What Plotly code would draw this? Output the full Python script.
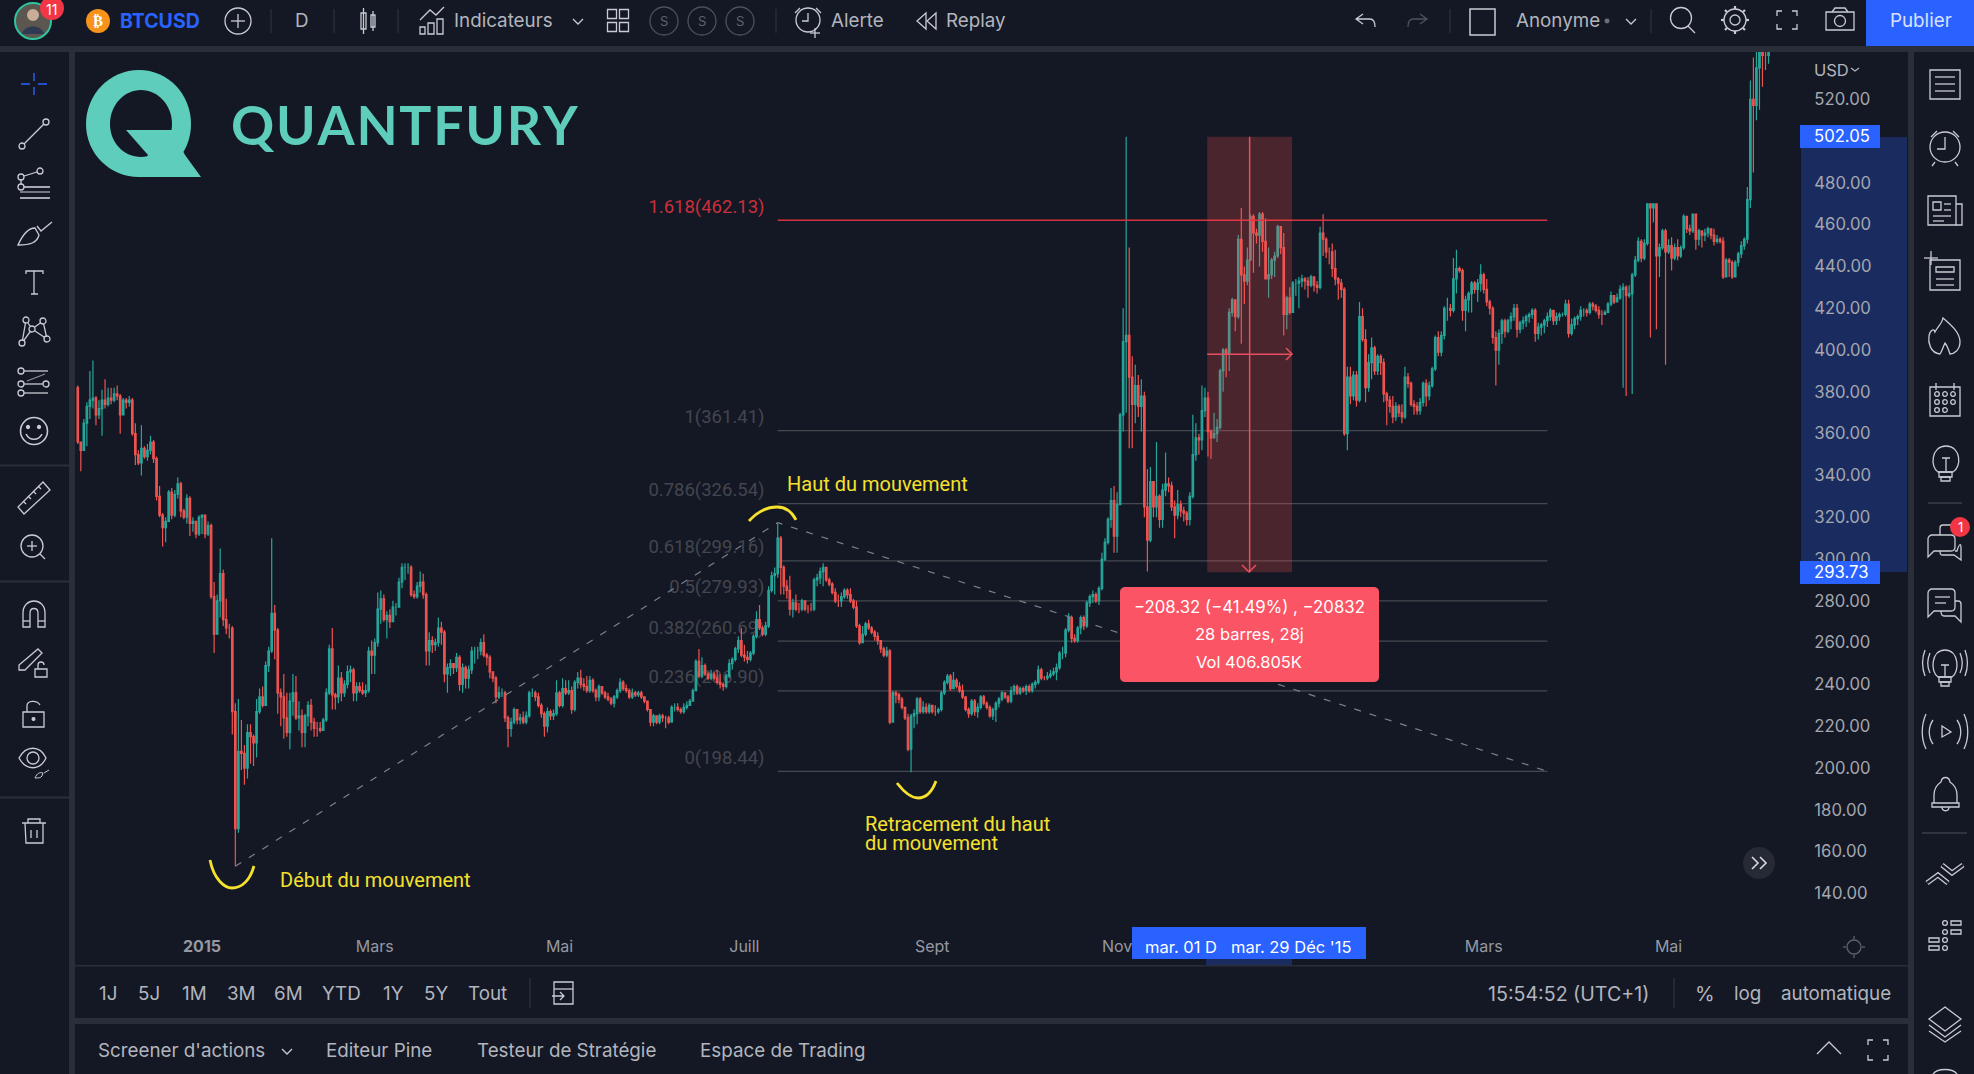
import pandas as pd
import plotly.graph_objects as go

W, H = 1974, 1074

# daily BTCUSD, 2014-11-23 onwards
first_open = 382
closes = [
    356,352,365,373,376,377,369,372,376,374,377,376,379,378,369,376,375,376,360,350,346,353,349,352,356,348,330,321,315,318,332,321,331,336,323,320,329,317,318,312,
    320,321,312,316,282,264,280,293,271,267,267,227,171,208,207,200,217,215,212,227,234,230,249,256,274,266,236,234,224,217,232,236,224,225,217,225,230,222,219,219,218,223,236,257,235,234,243,236,240,246,247,236,239,237,236,237,256,254,260,276,281,271,273,270,277,277,289,296,296,296,283,282,287,289,283,256,261,259,260,267,265,245,248,250,248,253,240,248,243,247,256,256,256,260,254,253,246,243,234,236,236,224,219,222,228,223,224,222,225,236,236,234,230,226,220,227,225,226,236,230,238,236,237,
    228,241,243,240,239,237,242,237,234,239,236,234,233,231,234,237,241,238,237,234,236,235,236,234,232,228,222,225,222,225,224,224,222,229,229,228,227,229,230,232,237,251,244,249,245,243,245,243,241,240,239,244,250,252,257,261,254,253,252,255,263,271,267,264,268,285,292,293,310,296,287,285,276,279,276,276,280,276,276,276,290,291,294,296,290,288,284,280,280,282,285,283,280,277,268,260,264,269,267,265,263,261,257,254,256,222,236,235,233,229,224,209,225,226,233,227,229,227,230,227,227,228,236,241,244,238,242,239,237,234,228,226,232,227,229,234,231,229,225,228,231,233,236,234,232,237,239,236,238,237,239,237,240,241,247,243,243,244,245,246,248,255,255,266,272,262,261,267,272,268,279,282,283,280,286,
    300,308,319,328,311,326,369,404,407,387,374,383,373,378,325,309,337,325,330,319,333,336,335,325,321,326,323,322,319,330,350,358,357,371,377,361,358,360,363,390,400,398,418,424,416,453,436,433,443,464,456,455,465,452,434,436,443,445,459,449,417,425,418,432,432,433,434,433,431,435,431,430,456,453,447,447,439,434,432,429,360,387,378,388,376,416,405,382,394,401,390,397,394,379,376,373,368,373,370,368,387,384,374,373,371,375,384,378,383,391,406,399,407,420,420,419,434,439,438,419,424,427,432,429,432,436,429,423,420,406,400,408,414,409,414,416,420,410,413,414,416,417,419,408,411,412,414,416,419,414,416,417,417,422,408,412,415,416,419,419,418,422,421,419,417,
    417,418,422,426,423,425,429,430,426,427,436,443,452,444,451,470,468,470,445,449,457,447,450,444,449,445,449,464,458,457,465,453,457,455,456,458,455,452,453,452,435,443,442,435,442,446,450,453,472,520,517,535,548,541,541,543,
]
highs = [
    383,356,367,375,390,395,378,376,381,386,382,382,382,383,379,377,377,378,377,365,352,364,354,355,359,357,349,335,322,320,333,334,333,339,337,324,331,330,320,318,
    321,321,321,318,317,289,283,305,295,281,269,268,231,233,223,211,221,221,216,233,238,239,251,258,310,278,267,238,245,236,236,245,244,232,228,226,232,233,224,222,222,224,238,259,267,236,249,246,242,249,249,248,241,241,241,240,258,261,262,284,285,283,275,276,280,279,291,298,298,298,297,285,289,294,293,284,265,263,262,272,270,266,250,252,250,255,254,250,249,249,258,258,258,262,264,255,254,246,244,239,238,237,225,224,229,228,226,227,227,237,238,237,236,231,227,229,228,228,242,237,243,242,242,
    239,242,246,247,243,244,244,243,238,240,239,237,236,234,235,238,243,242,240,238,238,237,237,237,234,232,228,226,225,226,226,225,225,230,231,231,229,231,232,233,238,252,257,253,250,246,247,246,247,245,241,245,252,253,258,263,267,259,256,256,264,275,278,268,270,287,294,296,317,311,297,290,292,281,283,279,281,280,278,279,291,293,296,298,296,291,289,286,283,284,286,286,286,281,280,269,268,270,271,268,266,265,261,258,258,257,237,237,236,234,229,226,226,228,234,234,232,231,231,230,230,229,237,242,245,245,246,243,241,240,234,229,233,233,231,235,235,232,230,229,232,234,237,236,235,239,240,240,239,239,240,240,241,242,249,248,244,246,247,248,250,256,258,267,274,273,264,268,273,273,280,283,285,284,287,
    303,310,320,334,335,332,370,420,502,449,397,393,388,386,380,343,344,337,356,331,336,351,339,337,328,333,328,325,323,332,369,365,360,383,382,380,362,370,367,391,401,401,420,425,424,455,468,440,449,465,465,458,466,466,463,449,444,447,460,458,456,426,430,433,434,435,436,435,435,436,435,433,459,465,454,449,451,448,435,434,430,392,392,390,390,423,420,410,398,406,402,398,398,396,380,378,378,375,374,374,392,389,385,376,375,377,385,386,385,392,407,409,409,421,425,422,444,448,440,439,426,428,433,433,434,441,437,434,424,421,409,410,415,415,415,418,422,422,414,416,417,418,420,420,413,413,415,418,420,419,418,418,418,424,424,415,416,417,421,420,420,423,423,422,421,
    419,419,423,428,426,427,431,432,431,431,437,445,454,453,453,470,470,470,469,451,458,458,453,454,451,453,450,465,462,460,465,463,458,456,458,459,458,458,455,454,454,444,444,443,443,447,452,454,478,529,540,548,560,552,550,552,
]
lows = [
    355,342,352,354,367,372,364,367,359,372,373,374,375,376,360,369,372,373,359,345,345,340,348,347,350,346,328,320,306,308,318,319,320,329,320,319,317,311,313,310,
    311,312,310,311,281,255,264,272,268,264,262,216,153,169,199,192,195,202,201,205,226,229,241,246,255,252,226,220,214,215,209,225,223,218,210,210,220,218,215,215,217,218,222,235,228,228,231,232,234,238,241,232,232,236,235,234,236,245,245,258,269,270,262,267,270,273,277,286,290,293,282,281,281,284,281,249,249,255,256,258,259,241,236,244,245,246,237,236,238,238,245,250,252,254,253,249,243,241,231,233,234,222,210,215,221,221,221,221,221,224,234,232,229,224,215,217,223,223,225,229,229,235,235,
    226,227,238,238,237,236,236,236,232,232,235,233,232,230,229,233,236,237,236,233,233,234,234,233,231,227,220,220,221,221,222,219,221,222,227,227,226,226,228,230,232,237,243,243,244,242,242,242,240,238,237,238,243,247,251,255,253,251,250,251,254,262,266,263,263,267,284,283,291,283,283,281,273,272,275,274,275,275,274,275,275,287,288,287,289,287,283,279,277,277,281,281,279,276,267,259,260,263,266,264,261,259,255,253,253,221,222,231,231,228,223,208,198,219,221,226,226,226,226,226,225,226,227,235,240,237,238,238,236,233,227,224,225,225,224,228,230,228,224,223,222,229,232,233,231,231,235,235,235,236,235,236,236,238,240,242,242,242,243,244,242,247,252,253,265,260,260,260,264,266,267,277,279,279,278,
    285,299,307,315,303,303,326,361,370,353,353,365,368,361,320,294,308,320,320,315,315,330,332,323,310,319,320,318,316,316,329,347,350,352,368,349,348,358,356,362,380,387,390,416,409,415,403,422,431,443,437,451,440,447,434,425,434,435,444,446,407,410,417,419,426,420,430,429,425,430,428,427,429,445,444,441,435,431,424,425,359,352,374,376,373,375,404,375,380,386,388,388,388,375,364,370,365,366,368,365,367,382,373,369,369,369,373,373,376,382,390,397,397,405,414,416,418,427,437,414,409,418,418,427,423,428,427,421,417,403,383,393,403,406,408,410,414,406,408,410,411,413,415,404,405,407,408,411,414,412,412,414,416,416,406,407,410,412,414,416,416,417,419,418,415,
    412,417,418,421,422,423,424,382,378,425,379,435,442,442,443,450,406,461,410,435,448,393,446,438,443,443,444,448,456,455,456,448,450,449,452,454,453,450,451,451,434,435,435,434,436,440,444,448,451,468,485,510,515,526,534,537,
]
dates = pd.date_range("2014-11-23", periods=len(closes), freq="D")
opens = [first_open] + closes[:-1]
assert len(closes) == len(highs) == len(lows), (len(closes), len(highs), len(lows))

price_ticks = [520, 480, 460, 440, 420, 400, 380, 360, 340, 320, 300, 280, 260, 240, 220, 200, 180, 160, 140]
month_ticks = ["2015-01-03", "2015-03-01", "2015-05-01", "2015-07-01", "2015-09-01", "2015-11-01", "2016-03-01", "2016-05-01"]
month_labels = ["<b>2015</b>", "Mars", "Mai", "Juill", "Sept", "Nov", "Mars", "Mai"]

fib_levels = [198.44, 236.90, 260.69, 279.93, 299.16, 326.54, 361.41]
fib_labels = ["0(198.44)", "0.236(236.90)", "0.382(260.69)", "0.5(279.93)", "0.618(299.16)", "0.786(326.54)", "1(361.41)"]
fib_start, fib_end = "2015-07-12", "2016-03-22"
fib_top = 462.13

trend_dates = ["2015-01-14", "2015-07-12", "2016-03-22"]
trend_prices = [153, 317.4, 198.44]

measure_start, measure_mid, measure_end = "2015-11-30 18:00", "2015-12-14 18:00", "2015-12-28 18:00"
measure_high, measure_low = 502.05, 293.73

BG = "#141824"
GAP = "#2a2e39"
ICON = "#c8cbd3"
TEXT = "#b2b5be"
BLUE = "#2962ff"
BAND = "#1a2c5f"
YELLOW = "#f5e12e"
TEAL = "#5fcdbb"
RED = "#f0414f"
UI = 18.8

shapes = []
notes = []


def fx(x):
    return round(x / W, 5)


def fy(y):
    return round(1 - y / H, 5)


def rect(x0, y0, x1, y1, fill=None, color=None, w=1.3, layer="below"):
    shapes.append(dict(type="rect", xref="paper", yref="paper", x0=fx(x0), x1=fx(x1), y0=fy(y0), y1=fy(y1),
                       fillcolor=fill or "rgba(0,0,0,0)", line=dict(color=color or "rgba(0,0,0,0)", width=w if color else 0), layer=layer))


def box(x0, y0, x1, y1, w=1.3):
    rect(x0, y0, x1, y1, None, ICON, w, "above")


def seg(x0, y0, x1, y1, color=ICON, w=1.3, layer="above"):
    shapes.append(dict(type="line", xref="paper", yref="paper", x0=fx(x0), x1=fx(x1), y0=fy(y0), y1=fy(y1),
                       line=dict(color=color, width=w), layer=layer))


def circ(cx, cy, r, fill=None, color=ICON, w=1.3, layer="above"):
    shapes.append(dict(type="circle", xref="paper", yref="paper", x0=fx(cx - r), x1=fx(cx + r), y0=fy(cy - r), y1=fy(cy + r),
                       fillcolor=fill or "rgba(0,0,0,0)", line=dict(color=color or "rgba(0,0,0,0)", width=w if color else 0), layer=layer))


def poly(d, color=ICON, w=1.3, fill=None, layer="above"):
    # d is an svg style path in pixels, pairs get turned into paper coords
    out, is_x = [], True
    for tok in d.split():
        if tok.isalpha():
            out.append(tok)
        else:
            out.append(str(fx(float(tok)) if is_x else fy(float(tok))))
            is_x = not is_x
    shapes.append(dict(type="path", xref="paper", yref="paper", path=" ".join(out),
                       fillcolor=fill or "rgba(0,0,0,0)", line=dict(color=color or "rgba(0,0,0,0)", width=w if color else 0), layer=layer))


def txt(x, y, s, size=UI, color=TEXT, anchor="left", family="Inter", weight=None):
    notes.append(dict(xref="paper", yref="paper", x=fx(x), y=fy(y), text=s, showarrow=False, xanchor=anchor, yanchor="middle",
                      font=dict(size=size, color=color, family=family, weight=weight), borderpad=0))


# panels
rect(0, 0, W, 46, BG)
rect(0, 52, 69, H, BG)
rect(75, 52, 1908, 1018, BG)
rect(75, 1024, 1908, H, BG)
rect(1914, 52, W, H, BG)
rect(75, 965, 1908, 966.5, GAP)
shapes.append(dict(type="rect", xref="paper", yref="paper", x0=fx(1801), x1=fx(1907), y0=fy(572), y1=fy(137),
                   fillcolor=BAND, line=dict(width=0), layer="below"))

# logo
poly("M 139 70 C 168 70 191 94 191 124 C 191 154 168 177 139 177 C 110 177 86 154 86 124 C 86 94 110 70 139 70 Z", color=None, fill=TEAL, layer="below")
poly("M 141 90 C 158 90 172 105 172 124 C 172 143 158 157 141 157 C 124 157 110 143 110 124 C 110 105 124 90 141 90 Z", color=None, fill=BG, layer="below")
poly("M 126 130 L 172 130 L 185 155 L 201 177 L 137 177 L 148 155 Z", color=None, fill=TEAL, layer="below")
txt(230, 124, "<span style='font-size:28px'>\u200a</span>".join("QUANTFURY"), 53.5, TEAL, family="Lato", weight=700)

# top bar
circ(33, 21, 18, "#5b5750", "#2ec4a0", 2)
circ(33, 15, 6, "#c9ad97", None)
poly("M 22 34 C 24 24 42 24 44 34 Z", color=None, fill="#2f3a52")
circ(52, 8, 12, "#f23645", None)
txt(52, 9, "11", 14, "#ffffff", "center")
circ(98, 21, 12, "#f7931a", None)
txt(98, 21, "₿", 15, "#ffffff", "center", "DejaVu Sans", 700)
txt(119, 21, "BTCUSD", 19.5, BLUE, weight=700)
circ(238, 21, 13)
seg(238, 14, 238, 28)
seg(231, 21, 245, 21)
for sx in [271, 334, 398, 776, 1450, 1651]:
    seg(sx, 9, sx, 33, "#2e323d", 1.2)
txt(302, 21, "D", UI, TEXT, "center")
box(361, 13, 366, 29)
box(371, 15, 375, 27)
seg(363.5, 8, 363.5, 34)
seg(373, 11, 373, 31)
poly("M 420 20 L 430 10 L 436 15 L 444 7")
box(420, 27, 425, 34)
box(428, 23, 434, 34)
box(437, 19, 443, 34)
txt(453, 21, "Indicateurs", UI)
poly("M 573 19 L 578 24 L 583 19")
for gx, gy in [(612, 14), (624, 14), (612, 27), (624, 27)]:
    box(gx - 4.5, gy - 4.5, gx + 4.5, gy + 4.5)
for sx in [664, 702, 740]:
    circ(sx, 21, 14, None, "#4c515e")
    txt(sx, 21, "S", 13, "#5d6270", "center")
circ(808, 20, 12)
poly("M 808 13 L 808 21 L 802 21")
seg(815, 28, 815, 38)
seg(810, 33, 820, 33)
poly("M 800 8 L 795 13")
poly("M 816 8 L 821 13")
txt(830, 21, "Alerte", UI)
poly("M 926 13 L 917 21 L 926 29 Z")
poly("M 936 13 L 927 21 L 936 29 Z")
txt(945, 21, "Replay", UI)
poly("M 1363 14 L 1356 19 L 1363 24 M 1356 19 L 1370 19 C 1374 19 1375 22 1375 27")
poly("M 1420 14 L 1427 19 L 1420 24 M 1427 19 L 1413 19 C 1409 19 1408 22 1408 27", color="#4c515e")
box(1470, 9, 1495, 35, 1.5)
txt(1515, 21, "Anonyme", UI)
circ(1607, 21, 2.5, "#6a6e7a", None)
poly("M 1626 19 L 1631 24 L 1636 19")
circ(1681, 18, 10.5)
seg(1688, 26, 1695, 33)
circ(1735, 20, 5)
circ(1735, 20, 11, None, ICON, 1.3)
for ax, ay, bx, by in [(1735, 9, 1735, 6), (1735, 31, 1735, 34), (1724, 20, 1721, 20), (1746, 20, 1749, 20),
                       (1727, 12, 1725, 10), (1743, 12, 1745, 10), (1727, 28, 1725, 30), (1743, 28, 1745, 30)]:
    seg(ax, ay, bx, by, ICON, 2.2)
for fsx, fsy, dx, dy in [(1777, 11, 1, 1), (1797, 11, -1, 1), (1777, 29, 1, -1), (1797, 29, -1, -1)]:
    poly(f"M {fsx} {fsy + 5 * dy} L {fsx} {fsy} L {fsx + 5 * dx} {fsy}")
box(1826, 12, 1854, 30)
circ(1840, 21, 5.5)
poly("M 1832 12 L 1835 8 L 1845 8 L 1848 12")
rect(1866, 0, W, 46, BLUE)
txt(1921, 21, "Publier", UI, "#d8e2ff", "center")

# left toolbar
poly("M 34 73 L 34 81 M 34 87 L 34 95 M 21 84 L 30 84 M 38 84 L 47 84", color=BLUE, w=1.4)
poly("M 22 146 L 46 122")
circ(22, 146, 3, BG)
circ(46, 122, 3, BG)
poly("M 21 177 L 40 171 M 21 177 L 21 187")
circ(21, 177, 3, BG)
circ(40, 171, 3, BG)
for ly, lw in [(187, 2), (192, 1.3), (198, 2)]:
    seg(20, ly, 50, ly, "#a6a9b2", lw)
circ(21, 187, 3, BG)
poly("M 18 245 C 23 234 28 228 35 228 L 39 235 C 37 243 30 245 18 245 Z")
poly("M 37 226 L 41 231 L 52 222")
poly("M 26 274 L 26 271 L 43 271 L 43 274 M 34 271 L 34 294 M 31 294 L 38 294")
poly("M 26 320 L 22 343 M 26 320 L 32 329 L 43 321 L 47 339 M 32 329 L 47 339 M 32 329 L 22 343")
for nx, ny in [(26, 320), (43, 321), (32, 329), (22, 343), (47, 339)]:
    circ(nx, ny, 3, BG)
for ly, lx in [(371, 48), (384, 46), (393, 48)]:
    seg(21, ly, lx, ly)
    circ(21, ly, 3, BG)
circ(46, 384, 3, BG)
poly("M 27 381 L 45 374", "#8c8f98", 1.2)
circ(34, 431, 13.5, None, ICON, 1.6)
circ(28, 427, 1.5, ICON)
circ(39, 427, 1.5, ICON)
poly("M 26 434 C 30 441 38 441 42 434", w=1.5)
rect(0, 464.5, 69, 466.5, GAP, layer="above")
poly("M 43 482 L 50 490 L 24 514 L 18 507 Z")
for tx, ty in [(38, 486), (33, 491), (28, 496), (23, 501)]:
    seg(tx, ty, tx + 3, ty + 3)
circ(32, 546, 11)
seg(40, 554, 45, 559)
seg(27, 546, 37, 546)
seg(32, 541, 32, 551)
rect(0, 580.5, 69, 582.5, GAP, layer="above")
poly("M 23 627 L 23 613 C 23 597 45 597 45 613 L 45 627 L 38 627 L 38 613 C 38 607 30 607 30 613 L 30 627 Z")
seg(23, 621, 30, 621)
seg(38, 621, 45, 621)
poly("M 38 649 L 42 653 L 25 670 L 19 670 L 19 665 Z")
box(35, 669, 47, 677)
poly("M 38 669 L 38 665 C 38 661 44 661 44 665")
box(23, 712, 44, 727)
poly("M 27 712 L 27 706 C 27 700 37 700 40 705")
circ(33.5, 719, 1.4, ICON)
poly("M 19 758 C 26 745 40 745 46 758 C 40 771 26 771 19 758 Z")
circ(33, 758, 6)
poly("M 35 778 C 37 773 40 772 43 773 L 42 776 C 41 778 38 778 35 778 Z M 44 773 L 49 770", w=1)
rect(0, 796.5, 69, 798.5, GAP, layer="above")
poly("M 22 823 L 46 823 M 28 823 L 28 819 L 40 819 L 40 823 M 25 823 L 26 843 L 43 843 L 43 823")
seg(31, 830, 31, 838)
seg(37, 830, 37, 838)

# right toolbar
box(1930, 70, 1960, 99)
for ly in [77, 84, 91]:
    seg(1935, ly, 1955, ly)
circ(1945, 147, 15)
poly("M 1945 137 L 1945 149 L 1937 149")
poly("M 1931 137 L 1937 131 M 1959 137 L 1953 131 M 1935 162 L 1932 166 M 1955 162 L 1958 166")
poly("M 1928 196 L 1956 196 L 1956 225 L 1928 225 Z")
poly("M 1956 204 L 1962 204 L 1962 225 L 1956 225")
box(1933, 202, 1941, 210)
for lx, ly in [(1951, 204), (1951, 210), (1951, 216), (1944, 221)]:
    seg(1933 if lx == 1944 or ly > 210 else 1944, ly, lx, ly)
box(1930, 260, 1960, 290)
seg(1924, 258, 1938, 258)
seg(1931, 251, 1931, 265)
box(1936, 267, 1954, 272)
seg(1936, 279, 1954, 279)
seg(1936, 285, 1954, 285)
poly("M 1940 354 C 1930 353 1928 342 1929 336 C 1930 330 1934 328 1935 332 C 1938 326 1942 324 1943 318 C 1950 324 1960 332 1960 342 C 1960 350 1954 354 1950 354 C 1948 348 1947 345 1945 343 C 1943 347 1942 351 1940 354 Z")
box(1930, 387, 1960, 416)
for cy in [394, 402, 410]:
    for cx in [1937, 1945, 1953]:
        if cy == 410 and cx == 1953:
            continue
        circ(cx, cy, 2.3)
seg(1936, 383, 1936, 390)
seg(1954, 383, 1954, 390)
poly("M 1938 472 C 1930 467 1931 446 1946 446 C 1961 446 1962 467 1953 472 Z")
box(1939, 472, 1952, 477)
box(1941, 477, 1950, 481)
poly("M 1942 458 L 1950 458 M 1946 458 L 1946 471")
seg(1928, 503, 1962, 503, "#3a3e49", 1.5)
# comments
poly("M 1932 535 L 1951 535 C 1954 535 1955 537 1955 539 L 1955 547 C 1955 550 1954 551 1951 551 L 1934 551 L 1928 557 L 1928 539 C 1928 537 1930 535 1932 535 Z")
poly("M 1940 535 L 1940 528 C 1940 526 1941 525 1943 525 L 1955 525 M 1955 551 L 1957 551 C 1960 541 1961 545 1961 548 L 1961 560 L 1954 555 L 1942 555 C 1940 555 1940 553 1940 551")
circ(1960, 527, 10, "#f23645", None)
txt(1960, 527.5, "1", 13, "#ffffff", "center")
poly("M 1932 589 L 1951 589 C 1954 589 1955 591 1955 593 L 1955 607 C 1955 610 1954 611 1951 611 L 1934 611 L 1928 617 L 1928 593 C 1928 591 1930 589 1932 589 Z")
seg(1935, 597, 1950, 597)
seg(1935, 603, 1946, 603)
poly("M 1955 601 L 1958 601 C 1960 601 1961 602 1961 604 L 1961 622 L 1955 616 L 1944 616 C 1942 616 1941 615 1941 611")
poly("M 1938 677 C 1930 672 1931 650 1945 650 C 1959 650 1960 672 1952 677 Z")
box(1939, 677, 1951, 682)
box(1941, 682, 1949, 686)
poly("M 1941 665 L 1949 665 M 1945 665 L 1945 676")
poly("M 1930 653 C 1927 660 1927 667 1930 673 M 1925 650 C 1922 658 1922 668 1925 676 M 1960 653 C 1963 660 1963 667 1960 673 M 1965 650 C 1968 658 1968 668 1965 676")
poly("M 1942 726 L 1951 732 L 1942 737 Z")
poly("M 1933 720 C 1928 727 1928 737 1933 744 M 1926 714 C 1921 725 1921 739 1926 749 M 1957 720 C 1962 727 1962 737 1957 744 M 1964 714 C 1969 725 1969 739 1964 749")
poly("M 1934 803 L 1934 795 C 1934 787 1938 784 1941 782 C 1942 776 1949 776 1950 782 C 1953 784 1957 787 1957 795 L 1957 803")
box(1932, 803, 1959, 807)
poly("M 1942 807 C 1942 812 1949 812 1949 807")
seg(1922, 833, 1967, 833, "#3a3e49", 1.5)
for d in ["M 1942 865 L 1952 873 L 1963 865", "M 1927 883 L 1938 875 L 1948 883"]:
    poly(d, ICON, 5)
    poly(d, BG, 2.4)
for cy in [923, 932, 940, 948]:
    circ(1945, cy, 2.4)
box(1951, 921, 1961, 925)
box(1951, 930, 1961, 934)
box(1929, 938, 1939, 942)
box(1929, 946, 1939, 950)
poly("M 1945 1007 L 1961 1019 L 1945 1031 L 1929 1019 Z")
poly("M 1929 1025 L 1945 1037 L 1961 1025")
poly("M 1929 1031 L 1945 1042 L 1961 1031")
poly("M 1933 1074 C 1937 1068 1953 1068 1957 1074")

# time axis date boxes
rect(1206, 959, 1292, 965, BAND)
rect(1132, 927, 1366, 959, BLUE, layer="above")
txt(1144, 947, "mar. 01 D", 16.5, "#ffffff")
txt(1230, 947, "mar. 29 Déc '15", 16.5, "#ffffff")
circ(1854, 947, 7, None, "#5d6270")
for ax, ay, bx, by in [(1854, 936, 1854, 939), (1854, 955, 1854, 958), (1843, 947, 1846, 947), (1862, 947, 1865, 947)]:
    seg(ax, ay, bx, by, "#5d6270")

# range bar
for lab, cx in zip(["1J", "5J", "1M", "3M", "6M", "YTD", "1Y", "5Y", "Tout"], [108, 149, 194, 242, 288, 341, 393, 436, 487]):
    txt(cx, 994, lab, UI, TEXT, "center")
seg(530, 978, 530, 1008, "#2e323d")
box(554, 982, 573, 1004)
seg(554, 989, 573, 989)
poly("M 552 996 L 564 996 M 560 992 L 564 996 L 560 1000")
txt(1569, 994, "15:54:52 (UTC+1)", 19.6, TEXT, "center")
seg(1674, 978, 1674, 1008, "#2e323d")
txt(1705, 994, "%", 20, TEXT, "center")
txt(1748, 994, "log", UI, TEXT, "center")
txt(1836, 994, "automatique", UI, TEXT, "center")

# bottom panel
txt(97, 1051, "Screener d'actions", UI)
poly("M 282 1049 L 287 1054 L 292 1049")
txt(325, 1051, "Editeur Pine", UI)
txt(476, 1051, "Testeur de Stratégie", UI)
txt(699, 1051, "Espace de Trading", UI)
poly("M 1817 1054 L 1829 1042 L 1841 1054")
for fsx, fsy, dx, dy in [(1868, 1040, 1, 1), (1888, 1040, -1, 1), (1868, 1060, 1, -1), (1888, 1060, -1, -1)]:
    poly(f"M {fsx} {fsy + 5 * dy} L {fsx} {fsy} L {fsx + 5 * dx} {fsy}")

# fib levels
for lvl, lab in zip(fib_levels, fib_labels):
    shapes.append(dict(type="line", xref="x", yref="y", x0=fib_start, x1=fib_end, y0=lvl, y1=lvl, layer="below",
                       line=dict(color="#45484f", width=1.3),
                       label=dict(text=lab + "\u2002\u2009", textposition="start", xanchor="right", yanchor="bottom", padding=4,
                                  font=dict(size=18.5, color="#43464f", family="Roboto"))))
shapes.append(dict(type="line", xref="x", yref="y", x0=fib_start, x1=fib_end, y0=fib_top, y1=fib_top, layer="above",
                   line=dict(color="#d5303e", width=1.5),
                   label=dict(text="1.618(462.13)\u2002\u2009", textposition="start", xanchor="right", yanchor="bottom", padding=4,
                              font=dict(size=18.5, color="#c9303c", family="Roboto"))))

# measure tool
shapes.append(dict(type="rect", xref="x", yref="y", x0=measure_start, x1=measure_end, y0=measure_low, y1=measure_high,
                   fillcolor="rgba(255,82,82,0.23)", line=dict(width=0), layer="above"))
shapes.append(dict(type="line", xref="x", yref="y", x0=measure_mid, x1=measure_mid, y0=measure_low, y1=measure_high,
                   line=dict(color="#e84f5e", width=1.5), layer="above"))
shapes.append(dict(type="line", xref="x", yref="y", x0=measure_start, x1=measure_end, y0=398, y1=398,
                   line=dict(color="#e84f5e", width=1.5), layer="above"))
poly("M 1242 565 L 1249 572 L 1256 565", "#e84f5e", 1.5)
poly("M 1286 348 L 1292 354 L 1286 360", "#e84f5e", 1.5)
poly("M 1126 587 L 1373 587 C 1377 587 1379 589 1379 592 L 1379 677 C 1379 680 1377 682 1373 682 L 1126 682 C 1122 682 1120 680 1120 677 L 1120 592 C 1120 589 1122 587 1126 587 Z", color=None, fill="#fb5465")
txt(1249, 607, "\u2212208.32 (\u221241.49%) , \u221220832", 16.8, "#ffffff", "center")
txt(1249, 634, "28 barres, 28j", 16.5, "#ffffff", "center")
txt(1249, 662, "Vol 406.805K", 16.5, "#ffffff", "center")

# hand drawn arcs and notes
poly("M 210 860 C 214 880 225 888 232 888 C 242 888 250 880 254 866", YELLOW, 2.8)
poly("M 749 521 C 758 511 768 507 777 507 C 786 507 792 512 796 520", YELLOW, 2.8)
poly("M 897 783 C 904 792 912 798 918 798 C 926 798 932 792 936 781", YELLOW, 2.8)
txt(279, 880, "Début du mouvement", 20, YELLOW, family="Roboto")
txt(786, 484, "Haut du mouvement", 20, YELLOW, family="Roboto")
txt(864, 824, "Retracement du haut", 20, YELLOW, family="Roboto")
txt(864, 843, "du mouvement", 20, YELLOW, family="Roboto")

# price tags
rect(1800, 125, 1880, 148, BLUE, layer="above")
txt(1842, 136.5, "502.05", 16.7, "#ffffff", "center")
rect(1800, 561, 1880, 584, BLUE, layer="above")
txt(1842, 572.5, "293.73", 16.7, "#ffffff", "center")
txt(1813, 70, "USD", 16.5, TEXT)
poly("M 1851 68 L 1855 71 L 1859 68", TEXT, 1.2)
circ(1759, 863, 16, "#262a35", None)
poly("M 1752 857 L 1758 863 L 1752 869 M 1760 857 L 1766 863 L 1760 869", "#d8dae0", 1.6)

fig = go.Figure()
fig.add_trace(go.Candlestick(
    x=dates, open=opens, high=highs, low=lows, close=closes,
    increasing=dict(line=dict(color="#26a69a", width=1.2), fillcolor="#26a69a"),
    decreasing=dict(line=dict(color="#ef5350", width=1.2), fillcolor="#ef5350"),
    whiskerwidth=0, hoverinfo="skip", showlegend=False,
))
fig.add_trace(go.Scatter(x=trend_dates, y=trend_prices, mode="lines", hoverinfo="skip", showlegend=False,
                         line=dict(color="#7d808a", width=1.2, dash="7px 9px")))

fig.update_layout(
    width=W, height=H, autosize=False,
    margin=dict(l=0, r=0, t=0, b=0),
    paper_bgcolor=GAP, plot_bgcolor="rgba(0,0,0,0)",
    font=dict(family="Inter", color=TEXT),
    showlegend=False,
    shapes=shapes, annotations=notes,
    xaxis=dict(domain=[75 / W, 1801 / W], range=["2014-11-22 02:00", "2016-06-13 17:00"], type="date",
               rangeslider=dict(visible=False), showgrid=False, zeroline=False, showline=False,
               tickvals=month_ticks, ticktext=month_labels, tickangle=0,
               ticks="outside", ticklen=2, tickcolor="rgba(0,0,0,0)",
               tickfont=dict(size=16, color="#9598a1", family="Inter")),
    yaxis=dict(domain=[1 - 930 / H, 1 - 52 / H], range=[122.5, 542.6], side="right", anchor="x",
               showgrid=False, zeroline=False, showline=False,
               tickvals=price_ticks, ticktext=[f"{v:.2f}" for v in price_ticks],
               ticks="outside", ticklen=9, tickcolor="rgba(0,0,0,0)",
               tickfont=dict(size=16.7, color="#a4a7b0", family="Inter")),
)

fig.write_html("out.html", config=dict(displayModeBar=False),
               post_script="document.body.style.margin='0';document.body.style.overflow='hidden';")
